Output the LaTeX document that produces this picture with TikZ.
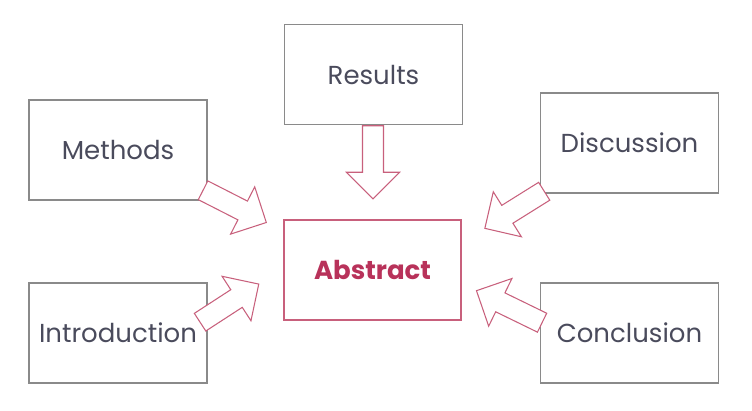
\documentclass[tikz,border=0pt]{standalone}
\usepackage{fontspec}
\setmainfont{Poppins}
\usetikzlibrary{shapes.arrows}
\definecolor{txt}{HTML}{4A4B5C}
\definecolor{edge}{HTML}{8A8A8A}
\definecolor{rose}{HTML}{B8325A}
\definecolor{roseline}{HTML}{C8607C}
\tikzset{
  px/.style={x=0.02cm,y=-0.02cm},
  sect/.style={draw=edge,line width=0.6pt,minimum width=3.56cm,minimum height=2cm,text=txt,font=\fontsize{14.8}{17}\selectfont,inner sep=0pt},
  abs/.style={draw=roseline,line width=0.6pt,minimum width=3.54cm,minimum height=2cm,text=rose,font=\fontsize{14.8}{17}\selectfont\bfseries,inner sep=0pt},
  barrow/.style={single arrow,draw=roseline,line width=0.6pt,fill=white,inner xsep=0pt,inner ysep=0.2cm,minimum width=1.04cm,single arrow head extend=0.32cm,single arrow head indent=0pt,minimum height=#1,anchor=center},
}
\begin{document}
\begin{tikzpicture}[px]
\useasboundingbox (0,0) rectangle (752,410);
\node[sect] (res) at (373.5,74.5) {Results};
\node[sect] (met) at (118,150) {Methods};
\node[sect] (dis) at (629.5,143) {Discussion};
\node[abs] (abs) at (372.5,270) {Abstract};
\node[sect] (int) at (118,333) {Introduction};
\node[sect] (con) at (629.5,333) {Conclusion};
\node[barrow=1.46cm,rotate=-90] (a1) at (373,157) {};
\node[barrow=1.42cm,rotate=-27] (a2) at (230,204) {};
\node[barrow=1.40cm,rotate=212] (a3) at (519,207) {};
\node[barrow=1.40cm,rotate=33] (a4) at (225,306) {};
\node[barrow=1.46cm,rotate=154] (a5) at (514,309) {};
\end{tikzpicture}
\end{document}
